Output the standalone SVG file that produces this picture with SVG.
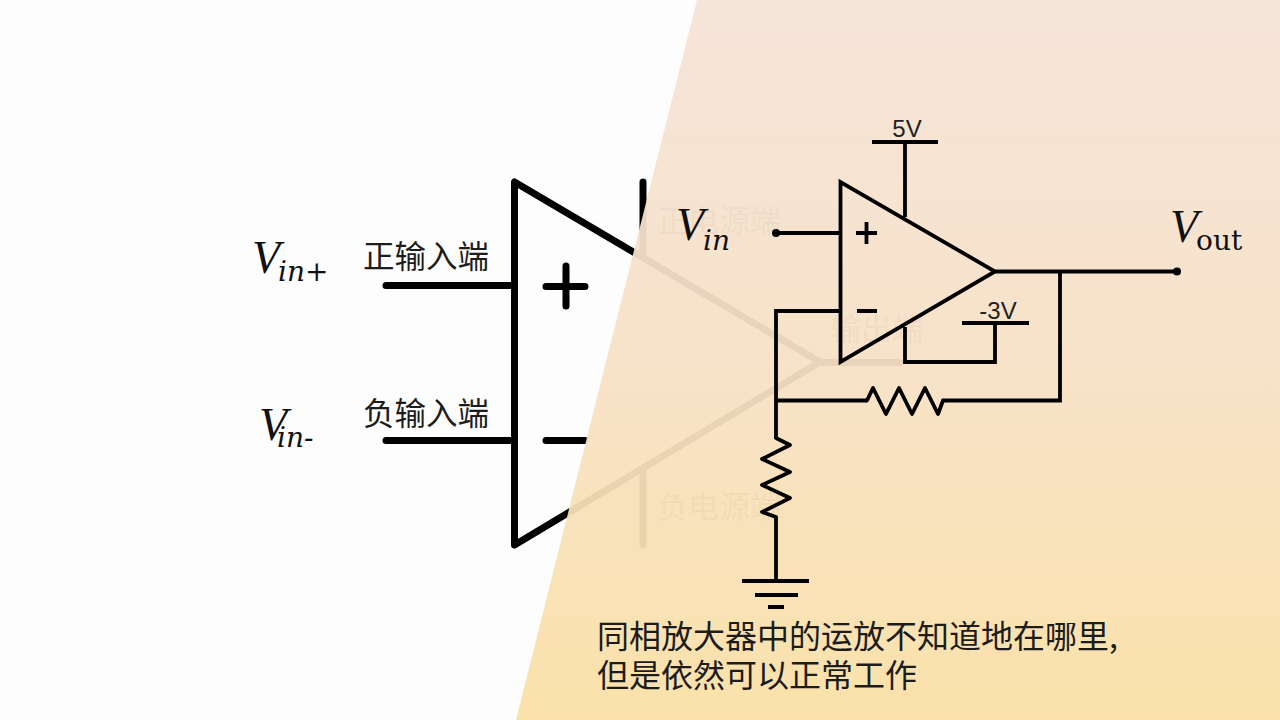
<svg xmlns="http://www.w3.org/2000/svg" width="1280" height="720" viewBox="0 0 1280 720">
<style>
.big{fill:none;stroke:#000;stroke-width:7;stroke-linecap:round;stroke-linejoin:round}
.w{fill:none;stroke:#000;stroke-width:3.8;stroke-linecap:butt;stroke-linejoin:miter}
.r{fill:none;stroke:#000;stroke-width:3.8;stroke-linecap:round;stroke-linejoin:round}
.cn{font-family:"Noto Sans CJK SC",sans-serif;font-size:31.500px;fill:#1c1c1c}
.cap{font-size:32px}
.ghost{font-family:"Noto Sans CJK SC",sans-serif;font-size:31px;fill:#000;fill-opacity:.5}
.m{fill:#111;font-family:"Liberation Serif",serif}
.v{font-family:"Liberation Serif",serif;font-style:italic;font-size:46px}
.s{font-family:"DejaVu Serif",serif;font-style:italic;font-size:28px}
.u{font-family:"DejaVu Serif",serif;font-size:28px}
.a{font-family:"Liberation Sans",sans-serif;font-size:24px;fill:#222;text-anchor:middle}
</style>
<defs>
<linearGradient id="bg" x1="0" y1="0" x2="0" y2="1">
<stop offset="0" stop-color="#f5e3d7"/>
<stop offset="0.5" stop-color="#f7e1c6"/>
<stop offset="1" stop-color="#fae0a5"/>
</linearGradient>
</defs>
<rect width="1280" height="720" fill="#fdfdfd"/>
<g id="big-opamp">
<path class="big" d="M514.500 182V545L820 362Z"/>
<path class="big" d="M643 182V256M643 470V545M820 362.500H900"/>
<path class="big" d="M546 286.500H585M566 266V306M546 440.500H585"/>
<path class="big" d="M386 285.500H514M386 440.500H514"/>
</g>
<g id="big-labels">
<text class="ghost" x="657" y="232">正电源端</text>
<text class="ghost" x="830" y="340">输出端</text>
<text class="ghost" x="657" y="518">负电源端</text>
<text class="cn" x="363" y="268">正输入端</text>
<text class="cn" x="363" y="425">负输入端</text>
<text class="m" x="252" y="273"><tspan class="v">V</tspan><tspan class="s" dy="8" dx="-2">in+</tspan></text>
<text class="m" x="259" y="440"><tspan class="v">V</tspan><tspan class="s" dy="7" dx="-10">in-</tspan></text>
</g>
<polygon id="veil" points="697,0 1280,0 1280,720 516,720" fill="url(#bg)" fill-opacity="0.94"/>
<g id="opamp">
<path class="w" d="M840.500 182V362L995 271.500Z"/>
<path class="w" d="M856 233H877M866.500 222V244M857 311H877"/>
</g>
<g id="connectors">
<path class="w" d="M776 233H840M905 142V217M995 271.500H1177M1060 271.500V400.500H943M905 327V362H995V323M840 311H776V438M776 400.500H867M776 517V581"/>
<path class="w" d="M872 142H938M962 323H1029M742 581H809M755 595H798M768 607H784"/>
</g>
<g id="r-feedback"><path class="r" d="M867 400.500L873 388L886 414L899 388L912 414L925 388L938 414L943 400.500"/></g>
<g id="r-ground"><path class="r" d="M776 438L790 445L762 459L790 472L762 485L790 498L762 512L776 517"/></g>
<g id="terminals">
<circle cx="776" cy="233" r="4"/>
<circle cx="1177" cy="271.500" r="4"/>
</g>
<g id="labels">
<text class="a" x="907" y="137">5V</text>
<text class="a" x="998" y="319">-3V</text>
<text class="m" x="676" y="240"><tspan class="v">V</tspan><tspan class="s" dy="10" dx="-1">in</tspan></text>
<text class="m" x="1170" y="242"><tspan class="v">V</tspan><tspan class="u" dy="8" dx="-2">out</tspan></text>
<text class="cn cap" x="597" y="648">同相放大器中的运放不知道地在哪里,</text>
<text class="cn cap" x="597" y="687">但是依然可以正常工作</text>
</g>
</svg>
